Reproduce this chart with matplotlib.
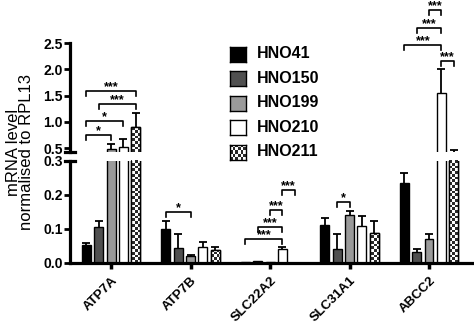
import numpy as np
import matplotlib
matplotlib.use('Agg')
import matplotlib.pyplot as plt
from matplotlib.colors import ListedColormap

plt.rcParams['font.family'] = ['Liberation Sans', 'DejaVu Sans']

genes = ['ATP7A', 'ATP7B', 'SLC22A2', 'SLC31A1', 'ABCC2']
lines = ['HNO41', 'HNO150', 'HNO199', 'HNO210', 'HNO211']

# mean expression and upper SEM per cell line, ordered as genes
hno41 = [0.053, 0.100, 0.002, 0.112, 0.235]
hno41_err = [0.005, 0.023, 0.0, 0.020, 0.030]
hno150 = [0.106, 0.044, 0.005, 0.041, 0.032]
hno150_err = [0.018, 0.041, 0.0, 0.044, 0.008]
hno199 = [0.48, 0.022, 0.002, 0.141, 0.070]
hno199_err = [0.10, 0.002, 0.0, 0.012, 0.015]
hno210 = [0.52, 0.048, 0.041, 0.109, 1.54]
hno210_err = [0.15, 0.014, 0.007, 0.029, 0.47]
hno211 = [0.90, 0.037, 0.0, 0.088, 0.40]
hno211_err = [0.26, 0.010, 0.0, 0.036, 0.06]

means = [hno41, hno150, hno199, hno210, hno211]
errs = [hno41_err, hno150_err, hno199_err, hno210_err, hno211_err]
colors = ['black', '#505050', '#9a9a9a', 'white', 'white']

# significance brackets: (gene, line a, line b, height, stars)
sig = [
    (0, 0, 2, 0.75, '*'), (0, 0, 3, 1.01, '*'),
    (0, 1, 4, 1.34, '***'), (0, 0, 4, 1.59, '***'),
    (1, 0, 2, 0.15, '*'),
    (2, 0, 3, 0.072, '***'), (2, 1, 3, 0.106, '***'),
    (2, 2, 3, 0.156, '***'), (2, 3, 4, 0.215, '***'),
    (3, 1, 2, 0.18, '*'),
    (4, 3, 4, 2.16, '***'), (4, 0, 3, 2.46, '***'),
    (4, 1, 3, 2.79, '***'), (4, 2, 3, 3.13, '***'),
]

W, H = 474, 325
fig = plt.figure(figsize=(W / 100, H / 100), dpi=100)
ax_lo = fig.add_axes([70 / W, 1 - 263 / H, 404 / W, 102 / H])
ax_hi = fig.add_axes([70 / W, 1 - 152 / H, 404 / W, 152 / H])

checker = ListedColormap(['#2a2a2a', 'white'])
x = np.arange(len(genes))
step, width = 0.155, 0.113


def checker_img(ax, cell=2.7):
    nx = int(ax.bbox.width / cell)
    ny = int(ax.bbox.height / cell)
    return np.indices((ny, nx)).sum(axis=0) % 2


for ax in (ax_lo, ax_hi):
    for k in range(5):
        xs = x + (k - 2) * step
        bars = ax.bar(xs, means[k], width, color=colors[k], edgecolor='black',
                      linewidth=1.0, zorder=2)
        if k == 4:
            img = checker_img(ax)
            for b in bars:
                im = ax.imshow(img, extent=(0, 1, 0, 1), transform=ax.transAxes,
                               aspect='auto', interpolation='nearest', cmap=checker,
                               zorder=2.5)
                im.set_clip_path(b)
            ax.bar(xs, means[k], width, fill=False, edgecolor='black',
                   linewidth=1.0, zorder=3)
        top = np.array(means[k]) + np.array(errs[k])
        has = np.array(errs[k]) > 0
        ax.vlines(xs[has], np.array(means[k])[has], top[has], color='black',
                  linewidth=1.3, zorder=1.5)
        ax.plot(xs[has], top[has], ls='none', marker='_', ms=6, mew=1.3,
                color='black', zorder=1.5)
    ax.set_xlim(-0.516, 4.566)
    for s in ('top', 'right'):
        ax.spines[s].set_visible(False)
    ax.spines['left'].set_linewidth(2.3)
    ax.tick_params(axis='y', length=4, width=2, labelsize=10, pad=1)

ax_lo.set_ylim(0, 0.3)
ax_lo.set_yticks([0, 0.1, 0.2, 0.3], ['0.0', '0.1', '0.2', '0.3'],
                 fontweight='bold')
ax_lo.spines['bottom'].set_linewidth(2.3)
ax_lo.set_xticks(x, genes, rotation=45, ha='right', rotation_mode='anchor',
                 fontweight='bold', fontsize=9.5)
ax_lo.tick_params(axis='x', length=4, width=2.5, pad=4)

ax_hi.set_ylim(0.424, 3.32)
ax_hi.spines['left'].set_bounds(0.424, 2.5)
ax_hi.spines['bottom'].set_visible(False)
ax_hi.set_xticks([])
ax_hi.set_yticks([0.5, 1.0, 1.5, 2.0, 2.5], ['0.5', '1.0', '1.5', '2.0', '2.5'],
                 fontweight='bold')
ax_hi.patch.set_alpha(0)

# break marks across the y axis
for ax, yv in ((ax_lo, 1.0), (ax_hi, 0.0)):
    ax.plot([-0.012, 0.012], [yv, yv], transform=ax.transAxes, color='black',
            linewidth=2.3, clip_on=False, zorder=5)

# significance brackets
for g, a, b, yv, txt in sig:
    ax = ax_hi if yv > 0.35 else ax_lo
    lo, hi = ax.get_ylim()
    drop = 5 / ax.bbox.height * (hi - lo)
    x1 = x[g] + (a - 2) * step
    x2 = x[g] + (b - 2) * step
    ax.plot([x1, x1, x2, x2], [yv - drop, yv, yv, yv - drop], color='black',
            linewidth=1.2, clip_on=False, zorder=4)
    ax.annotate(txt, ((x1 + x2) / 2, yv), xytext=(0, 0.5),
                textcoords='offset points', ha='center', va='baseline',
                fontsize=9, fontweight='bold', annotation_clip=False)

fig.text(20 / W, 1 - 152 / H, 'mRNA level\nnormalised to RPL13', rotation=90,
         ha='center', va='center', fontsize=12, linespacing=0.85)

# legend swatches
for k, name in enumerate(lines):
    yc = 54 + k * 24.5
    sw = fig.add_axes([230 / W, 1 - (yc + 7.5) / H, 16 / W, 15 / H])
    sw.set_xticks([])
    sw.set_yticks([])
    sw.set_facecolor(colors[k])
    for s in sw.spines.values():
        s.set_linewidth(1.0)
    if k == 4:
        sw.imshow(np.indices((5, 6)).sum(axis=0) % 2, cmap=checker,
                  aspect='auto', interpolation='nearest')
    fig.text(257 / W, 1 - yc / H, name, va='center', ha='left',
             fontsize=11.5, fontweight='bold')

fig.savefig('out.png', dpi=100)
